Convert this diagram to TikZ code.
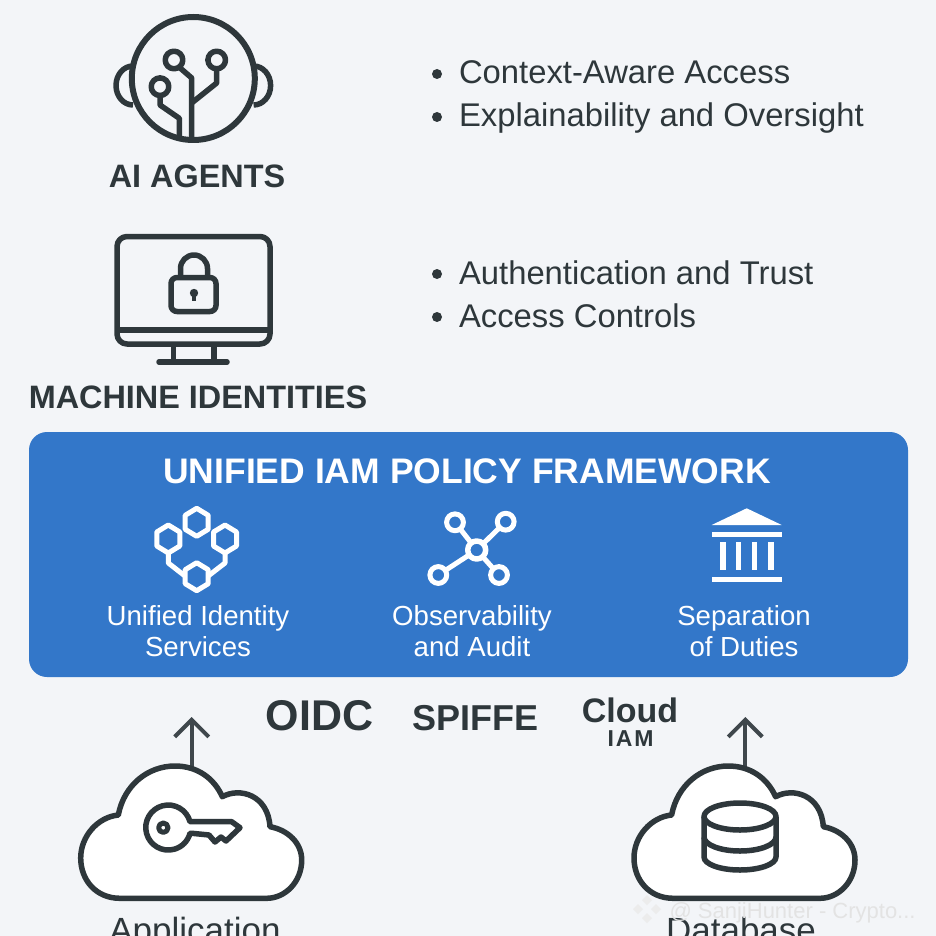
\documentclass[tikz,border=0pt]{standalone}
\usepackage{fontspec}
\setmainfont{Liberation Sans}
\usetikzlibrary{arrows.meta,positioning,calc}
\definecolor{paper}{HTML}{F3F5F8}
\definecolor{ink}{HTML}{2E373B}
\definecolor{band}{HTML}{3377C9}
\definecolor{stem}{HTML}{3F474C}
\tikzset{
  iconline/.style={draw=ink, line width=5.5pt, line join=round},
  bandline/.style={draw=white, line width=5pt, line join=round},
  headtext/.style={anchor=base, text=ink, font=\fontsize{32.4}{36}\selectfont\bfseries},
  itemtext/.style={anchor=base west, text=ink, font=\fontsize{32.8}{36}\selectfont},
  capttext/.style={anchor=base, text=ink, font=\fontsize{35}{38}\selectfont},
  bandtext/.style={anchor=base, text=white, font=\fontsize{27.6}{30}\selectfont},
  logotext/.style={anchor=base, text=ink, font=\fontsize{43}{46}\selectfont\bfseries},
  bulletdot/.style={circle, fill=ink, inner sep=0pt, minimum size=10pt},
  cloudicon/.pic={
    \draw[iconline, fill=white] (120,898.3)
      .. controls (96,898.3) and (80.7,880) .. (80.7,858)
      .. controls (80.7,836) and (98,817) .. (118.3,815)
      .. controls (124,785) and (148,766) .. (175,766)
      .. controls (197,766) and (214,778) .. (222.3,796.7)
      .. controls (240,787) and (268,795) .. (270,826.7)
      .. controls (288,830) and (301.7,843) .. (301.7,860)
      .. controls (301.7,882) and (285,898.3) .. (266.7,898.3) -- cycle;
  }
}
\begin{document}
\begin{tikzpicture}[x=1pt, y=-1pt, >=Stealth]
  \useasboundingbox (0,0) rectangle (936,936);
  \clip (0,0) rectangle (936,936);
  \fill[paper] (0,0) rectangle (936,936);
  % agent head
  \draw[iconline, line width=6pt] (193.3,78.5) circle (61.5);
  \draw[iconline] (133,66) arc (270:90:17 and 19.5);
  \draw[iconline] (253.6,66) arc (-90:90:17 and 19.5);
  \draw[iconline] (191.7,140) -- (191.7,78) -- (179,67);
  \draw[iconline] (191.7,103) -- (216.7,83) -- (216.7,69);
  \draw[iconline] (160,96) -- (160,105) -- (179.3,118.3) -- (179.3,138);
  \foreach \x/\y in {174/60, 216.7/60, 160/86.7}
    \draw[iconline] (\x,\y) circle (8.8);
  \node[headtext] (agents) at (197,187) {AI AGENTS};
  % monitor
  \draw[iconline, rounded corners=10pt] (117,236.5) rectangle (270,344);
  \draw[iconline] (117,330) -- (270,330);
  \draw[iconline] (173.3,344) -- (173.3,362);
  \draw[iconline] (214,344) -- (214,362);
  \draw[iconline, line cap=round] (159,362) -- (227,362);
  \draw[iconline, rounded corners=6pt] (171,277.5) rectangle (216,311.5);
  \draw[iconline] (180.5,277.5) -- (180.5,268.5) arc (180:360:13.5) -- (207.5,277.5);
  \fill[ink] (194,293) circle (4.2);
  \fill[ink] (192,293) rectangle (196,301);
  \node[headtext] (machines) at (198,408) {MACHINE IDENTITIES};
  % bullet lists
  \foreach \y/\l in {84/Context-Aware Access, 127/Explainability and Oversight, 284/Authentication and Trust, 327/Access Controls}{
    \node[bulletdot] at (437,\y-10) {};
    \node[itemtext] at (455.5,\y) {\l};
  }
  % policy band
  \fill[band, rounded corners=18pt] (29,432) rectangle (908,677);
  \node[headtext, text=white, font=\fontsize{35.5}{38}\selectfont\bfseries] (policy) at (467,483) {UNIFIED IAM POLICY FRAMEWORK};
  % hexagons
  \foreach \x/\y in {196.7/522.3, 168.3/539, 225/539, 196.7/576.7}
    \draw[bandline] (\x,\y-14) -- ++(11.5,7) -- ++(0,14) -- ++(-11.5,7) -- ++(-11.5,-7) -- ++(0,-14) -- cycle;
  \draw[bandline] (168.3,553) -- (168.3,563) -- (185,576);
  \draw[bandline] (225,553) -- (225,563) -- (208.2,576);
  % network
  \foreach \x/\y in {455/522.3, 505.7/521.7, 438.3/575, 499/575}{
    \draw[bandline] (476.7,550) -- (\x,\y);
    \draw[bandline, fill=band] (\x,\y) circle (8.4);
  }
  \draw[bandline, fill=band, line width=5.5pt] (476.7,550) circle (9);
  % temple
  \fill[white] (711.7,525) -- (746.7,508.3) -- (781.7,525) -- cycle;
  \fill[white] (711.7,531.7) rectangle (781.7,537.3);
  \fill[white] (711.7,576.7) rectangle (781.7,582.3);
  \foreach \x in {720,735.7,751.7,768}
    \fill[white] (\x,542.3) rectangle (\x+5.5,570);
  % band labels
  \foreach \x/\a/\b in {198/Unified Identity/Services, 472/Observability/and Audit, 744/Separation/of Duties}{
    \node[bandtext] at (\x,625) {\a};
    \node[bandtext] at (\x,656) {\b};
  }
  % logos
  \node[logotext] (oidc) at (319.5,730.5) {OIDC};
  \node[logotext, font=\fontsize{36}{40}\selectfont\bfseries] (spiffe) at (475.5,730) {SPIFFE};
  \node[logotext, font=\fontsize{34}{38}\selectfont\bfseries] (cloud) at (630,722) {Cloud};
  \node[logotext, font=\fontsize{23}{26}\selectfont\bfseries\addfontfeature{LetterSpace=8}] (iam) at (630.5,746) {IAM};
  % arrows out of the clouds
  \coordinate (appfoot) at (191.7,768);
  \coordinate (apptip) at (191.7,717);
  \coordinate (dbfoot) at (745.3,768);
  \coordinate (dbtip) at (745.3,717);
  \foreach \a/\b in {appfoot/apptip, dbfoot/dbtip}
    \draw[stem, line width=4pt, -{Straight Barb[length=17pt, width=34pt, line width=4pt]}] (\a) -- (\b);
  % clouds
  \pic (appcloud) at (0,0) {cloudicon};
  \pic (dbcloud) at (553.3,0) {cloudicon};
  % key
  \draw[iconline] (190,821.7) arc (-15:-345:22.5)
    -- (192,833.3) -- (209,835) -- (215,842) -- (221,837) -- (226,841) -- (240,827.7) -- (231.7,821.7) -- cycle;
  \draw[iconline, line width=5pt] (163.3,827.7) circle (4.7);
  % database
  \draw[iconline] (740,816.5) ellipse (36 and 13.5);
  \draw[iconline] (704,816.5) -- (704,857) arc (180:0:36 and 13) -- (776,816.5);
  \draw[iconline] (704,837) arc (180:0:36 and 14);
  % cloud captions
  \node[capttext] (application) at (195,942) {Application};
  \node[capttext] (database) at (741,942) {Database};
  % watermark
  \foreach \x/\y in {647/900, 638/909, 656/909, 647/918}
    \fill[white!85!gray] (\x,\y-5) -- (\x+5,\y) -- (\x,\y+5) -- (\x-5,\y) -- cycle;
  \node[anchor=base west, text=white!78!gray, font=\fontsize{22}{26}\selectfont] (mark) at (666,918) {@ SanjiHunter - Crypto...};
\end{tikzpicture}
\end{document}
